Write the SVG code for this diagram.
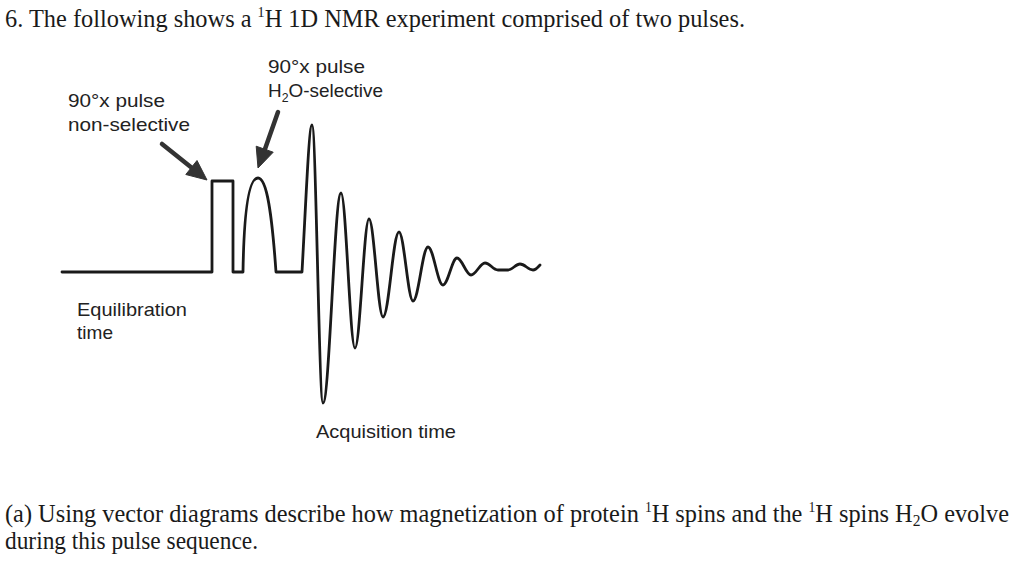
<svg xmlns="http://www.w3.org/2000/svg" width="1024" height="566" viewBox="0 0 1024 566">
<style>
.serif{font-family:"Liberation Serif","Times New Roman",serif;fill:#1a1a1a}
.sans{font-family:"Liberation Sans",Arial,sans-serif;font-size:18.5px;fill:#222}
.wave{fill:none;stroke:#1a1a1a;stroke-width:2.8;stroke-linejoin:round;stroke-linecap:round}
.shaft{stroke:#333;stroke-width:4.5;stroke-linecap:round}
.head{fill:#333;stroke:#333;stroke-width:1;stroke-linejoin:round}
</style>
<rect width="1024" height="566" fill="#fff"/>
<g id="title">
<text class="serif" x="5" y="27" font-size="26" textLength="740" lengthAdjust="spacingAndGlyphs">6. The following shows a <tspan font-size="15" dy="-10">1</tspan><tspan dy="10">H 1D NMR experiment comprised of two pulses.</tspan></text>
</g>
<g id="sequence">
<path class="wave" d="M62,272 L212,272 L212,181 L233,181 L233,272 L243,272 C244,210 249,178 258,178 C267,178 272,215 276,272 L302,272 C306,200 309,125 312,125 C316,125 319,403 323,403 C329.5,403 334.5,193 341,193 C346,193 350,348 355,348 C360,348 364,219 369,219 C374,219 378,317 383,317 C389,317 393,232 399,232 C404,232 408,301 413,301 C418.5,301 422.5,247 428,247 C433.5,247 437.5,285 443,285 C448,285 452,258 457,258 C462,258 466,275 471,275 C476,275 480,263 485,263 C490,263 493,270 498,270 L508,270 C512,270 516,264 520,264 C525,264 528,270 533,270 C536,270 538,267 540,265"/>
</g>
<g id="label-nonselective">
<text class="sans" x="68" y="107" textLength="97" lengthAdjust="spacingAndGlyphs">90°x pulse</text>
<text class="sans" x="68" y="131" textLength="122" lengthAdjust="spacingAndGlyphs">non-selective</text>
</g>
<g id="label-selective">
<text class="sans" x="268" y="73" textLength="97" lengthAdjust="spacingAndGlyphs">90°x pulse</text>
<text class="sans" x="268" y="97" textLength="115" lengthAdjust="spacingAndGlyphs">H<tspan font-size="12" dy="5">2</tspan><tspan dy="-5">O-selective</tspan></text>
</g>
<g id="label-equilibration">
<text class="sans" x="77" y="316" textLength="110" lengthAdjust="spacingAndGlyphs">Equilibration</text>
<text class="sans" x="77" y="339" textLength="36" lengthAdjust="spacingAndGlyphs">time</text>
</g>
<g id="label-acquisition">
<text class="sans" x="316" y="438" textLength="140" lengthAdjust="spacingAndGlyphs">Acquisition time</text>
</g>
<g id="connectors">
<line class="shaft" x1="162" y1="144" x2="192" y2="168"/>
<polygon class="head" points="207,180 185.8,174.5 197,160.5"/>
<line class="shaft" x1="278" y1="112" x2="265" y2="149"/>
<polygon class="head" points="258,168 256.2,146.2 273.2,152.2"/>
</g>
<g id="question">
<text class="serif" x="5" y="522" font-size="25" textLength="1004" lengthAdjust="spacingAndGlyphs">(a) Using vector diagrams describe how magnetization of protein <tspan font-size="14" dy="-10">1</tspan><tspan dy="10">H spins and the </tspan><tspan font-size="14" dy="-10">1</tspan><tspan dy="10">H spins H</tspan><tspan font-size="16" dy="4">2</tspan><tspan dy="-4">O evolve</tspan></text>
<text class="serif" x="5" y="549" font-size="25" textLength="253" lengthAdjust="spacingAndGlyphs">during this pulse sequence.</text>
</g>
</svg>
